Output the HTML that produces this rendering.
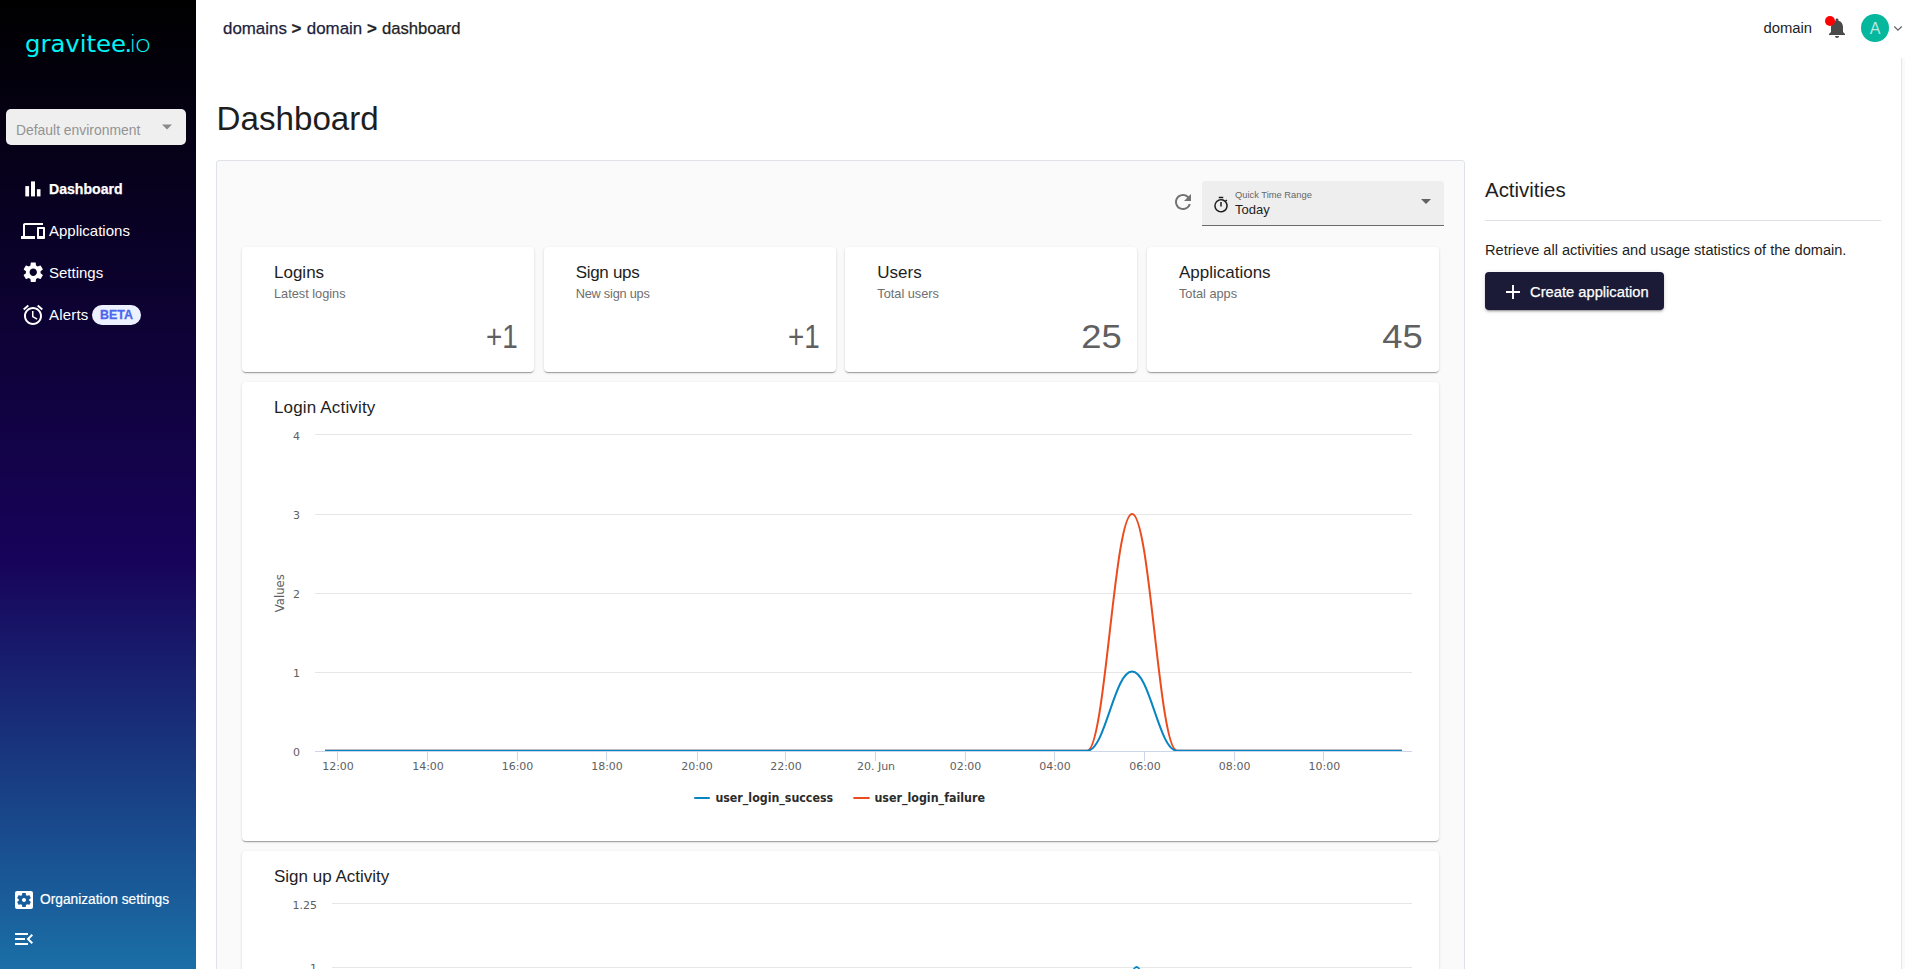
<!DOCTYPE html>
<html lang="en">
<head>
<meta charset="utf-8">
<title>Dashboard</title>
<style>
*{box-sizing:border-box;margin:0;padding:0}
html,body{width:1905px;height:969px;overflow:hidden;background:#fff}
body{font-family:"Liberation Sans",sans-serif;color:#1e1e1e;position:relative}
.abs{position:absolute;white-space:nowrap;line-height:1}
/* sidebar */
#side{position:absolute;left:0;top:0;width:196px;height:969px;
 background:linear-gradient(180deg,#000000 0%,#17035a 58%,#1a6fa7 100%)}
#env{position:absolute;left:6px;top:109px;width:180px;height:36px;background:#efefef;border-radius:5px}
.mi{position:absolute;left:49px;color:#fff;font-size:15px;white-space:nowrap;line-height:1}
#beta{position:absolute;left:92px;top:305px;width:49px;height:20px;border-radius:10px;background:#edf1ff;color:#4a67ee;-webkit-text-stroke:.300px #4a67ee;font-weight:bold;font-size:12.400px;line-height:20px;text-align:center}
/* main */
#panel{position:absolute;left:216px;top:160px;width:1249px;height:820px;background:#fafafa;border:1px solid #dfe2e6;border-radius:3px}
.card{position:absolute;background:#fff;border-radius:4px;box-shadow:0 2px 1px -1px rgba(0,0,0,.2),0 1px 1px 0 rgba(0,0,0,.14),0 1px 3px 0 rgba(0,0,0,.12)}
.ct{position:absolute;left:32px;top:17px;font-size:17px;line-height:1;white-space:nowrap;color:#1e1e1e}
.cs{position:absolute;left:32px;top:41px;font-size:12.750px;line-height:1;white-space:nowrap;color:#6e6e6e}
.cv{position:absolute;right:16px;top:72px;font-size:34px;line-height:1;white-space:nowrap;color:#606060}
#sel{position:absolute;left:1202px;top:181px;width:241.800px;height:45px;background:#eeeeee;border-radius:4px 4px 0 0;border-bottom:1px solid #6b6b6b}
#btn{position:absolute;left:1485px;top:272px;width:179px;height:38px;background:#1b1b38;border-radius:4px;box-shadow:0 3px 1px -2px rgba(0,0,0,.2),0 2px 2px 0 rgba(0,0,0,.14),0 1px 5px 0 rgba(0,0,0,.12)}
#sb{position:absolute;left:1901px;top:58px;width:4px;height:911px;background:#fafafa;border-left:1px solid #e6e6e6}
svg{position:absolute;overflow:visible}
svg text{font-family:"DejaVu Sans","Liberation Sans",sans-serif}
</style>
</head>
<body>
<!-- SIDEBAR -->
<div id="side">
  <svg id="logo" style="left:26px;top:30px" width="126" height="32" viewBox="0 0 126 32">
    <text y="22" font-size="23.800" fill="#00f4f4" style="font-family:'DejaVu Sans','Liberation Sans',sans-serif"><tspan x="-1.100" textLength="101.200" lengthAdjust="spacingAndGlyphs">gravitee</tspan><tspan x="98.600">.</tspan><tspan x="103.600" style="font-family:'DejaVu Sans Light','DejaVu Sans','Liberation Sans',sans-serif;font-weight:200">i</tspan><tspan x="108.600" textLength="16.900" lengthAdjust="spacingAndGlyphs" style="font-family:'DejaVu Sans Light','DejaVu Sans','Liberation Sans',sans-serif;font-weight:200">o</tspan></text>
  </svg>
  <div id="env">
    <div class="abs" style="left:10px;top:14.800px;font-size:13.900px;color:#939393">Default environment</div>
    <svg style="left:155px;top:15px" width="12" height="6" viewBox="0 0 12 6"><path d="M1 0.5h10L6 5.5z" fill="#8a8a8a"/></svg>
  </div>
  <!-- icons -->
  <svg style="left:0;top:0" width="60" height="200" viewBox="0 0 60 200" fill="#fff"><rect x="25.300" y="186.100" width="3.800" height="10.300"/><rect x="31" y="181.400" width="4" height="15"/><rect x="36.900" y="189.200" width="3.600" height="7.200"/></svg>
  <div class="mi" style="top:182px;font-weight:bold;font-size:14.100px;-webkit-text-stroke:.250px #fff">Dashboard</div>
  <svg style="left:21px;top:219.200px" width="24" height="24" viewBox="0 0 24 24" fill="#fff"><path d="M4 6h18V4H4c-1.100 0-2 .900-2 2v11H0v3h14v-3H4V6zm19 2h-6c-.550 0-1 .450-1 1v10c0 .550.450 1 1 1h6c.550 0 1-.450 1-1V9c0-.550-.450-1-1-1zm-1 9h-4v-7h4v7z"/></svg>
  <div class="mi" style="top:223.100px">Applications</div>
  <svg style="left:20.750px;top:260.200px" width="24.500" height="24.500" viewBox="0 0 24 24" fill="#fff"><path d="M19.140 12.940c.040-.300.060-.610.060-.940 0-.320-.020-.640-.070-.940l2.030-1.580a.490.490 0 0 0 .120-.610l-1.920-3.320a.488.488 0 0 0-.590-.220l-2.390.960c-.500-.380-1.030-.700-1.620-.940l-.360-2.540a.484.484 0 0 0-.480-.410h-3.840c-.240 0-.430.170-.470.410l-.360 2.540c-.590.240-1.130.570-1.620.940l-2.390-.960c-.220-.080-.470 0-.590.220L2.740 8.870c-.120.210-.080.470.120.610l2.030 1.580c-.050.300-.090.630-.090.940s.020.640.070.940l-2.030 1.580a.490.490 0 0 0-.120.610l1.920 3.320c.120.220.370.290.590.220l2.390-.960c.500.380 1.030.700 1.620.940l.360 2.540c.050.240.240.410.480.410h3.840c.240 0 .440-.170.470-.410l.360-2.540c.590-.240 1.130-.560 1.620-.940l2.390.960c.220.080.470 0 .590-.220l1.920-3.320c.120-.220.070-.470-.120-.610l-2.010-1.580zM12 15.600c-1.980 0-3.600-1.620-3.600-3.600s1.620-3.600 3.600-3.600 3.600 1.620 3.600 3.600-1.620 3.600-3.600 3.600z"/></svg>
  <div class="mi" style="top:265px">Settings</div>
  <svg style="left:21px;top:303.200px" width="24" height="24" viewBox="0 0 24 24" fill="#fff"><path d="M12.500 8H11v6l4.750 2.850.750-1.230-4-2.370V8zm4.837-6.190l4.607 3.845-1.280 1.535-4.610-3.843 1.283-1.537zm-10.674 0l1.282 1.536L3.337 7.190l-1.280-1.536L6.663 1.810zM12 4c-4.970 0-9 4.030-9 9s4.030 9 9 9 9-4.030 9-9-4.030-9-9-9zm0 16c-3.860 0-7-3.140-7-7s3.140-7 7-7 7 3.140 7 7-3.140 7-7 7z"/></svg>
  <div class="mi" style="top:306.500px;letter-spacing:0.200px">Alerts</div>
  <div id="beta">BETA</div>
  <svg style="left:11.900px;top:887.800px" width="24" height="24" viewBox="0 0 24 24" fill="#fff"><path d="M12 10c-1.100 0-2 .900-2 2s.900 2 2 2 2-.900 2-2-.900-2-2-2zm7-7H5a2 2 0 0 0-2 2v14a2 2 0 0 0 2 2h14a2 2 0 0 0 2-2V5a2 2 0 0 0-2-2zm-1.750 9c0 .230-.020.460-.050.680l1.480 1.160c.130.110.170.300.080.450l-1.400 2.420c-.090.150-.270.210-.430.150l-1.740-.700c-.360.280-.760.510-1.180.690l-.260 1.850c-.030.170-.180.300-.350.300h-2.800c-.170 0-.320-.130-.350-.290l-.260-1.850c-.430-.180-.820-.410-1.180-.690l-1.740.700c-.160.060-.340 0-.430-.150l-1.400-2.420a.353.353 0 0 1 .080-.450l1.480-1.160c-.030-.230-.050-.460-.050-.690 0-.230.020-.460.050-.680l-1.480-1.160a.353.353 0 0 1-.080-.450l1.400-2.420c.090-.150.270-.210.430-.150l1.740.700c.360-.280.760-.510 1.180-.690l.260-1.850c.030-.170.180-.300.350-.300h2.800c.170 0 .320.130.350.290l.260 1.850c.430.180.820.410 1.180.690l1.740-.700c.160-.060.340 0 .430.150l1.400 2.420c.090.150.050.340-.080.450l-1.480 1.160c.030.230.050.460.050.690z"/></svg>
  <div class="mi" style="left:40px;top:892.500px;font-size:13.740px;-webkit-text-stroke:.200px #fff">Organization settings</div>
  <svg style="left:11.900px;top:926.900px" width="24" height="24" viewBox="0 0 24 24" fill="#fff"><path d="M3 18h13v-2H3v2zm0-5h10v-2H3v2zm0-7v2h13V6H3zm18 9.590L17.420 12 21 8.410 19.590 7l-5 5 5 5L21 15.590z"/></svg>
</div>

<!-- TOP BAR -->
<div class="abs" id="bc" style="left:223px;top:21px;font-size:16.900px;-webkit-text-stroke:0.250px currentColor;color:#1c1e3e">domains <b style="color:#232323;-webkit-text-stroke:.250px #232323">&gt;</b><span style="margin-left:.700px"> domain</span> <b style="color:#232323;-webkit-text-stroke:.250px #232323">&gt;</b> <span style="color:#1e1e1e;font-size:16.660px;margin-left:.400px">dashboard</span></div>
<div class="abs" id="dom" style="left:1763.400px;top:21.100px;font-size:14.850px;color:#1e1e1e">domain</div>
<svg style="left:1824.700px;top:15.700px" width="24" height="24" viewBox="0 0 24 24" fill="#4a4a4a"><path d="M12 22c1.100 0 2-.900 2-2h-4a2 2 0 0 0 2 2zm6-6v-5c0-3.070-1.640-5.640-4.500-6.320V4c0-.830-.670-1.500-1.500-1.500s-1.500.670-1.500 1.500v.680C7.630 5.360 6 7.920 6 11v5l-2 2v1h16v-1l-2-2z"/></svg>
<div style="position:absolute;left:1825px;top:16px;width:10px;height:10px;border-radius:5px;background:#ff0000"></div>
<div style="position:absolute;left:1861.200px;top:14px;width:27.700px;height:27.700px;border-radius:14px;background:#04b79d;color:rgba(255,255,255,.72);font-size:16px;line-height:29.500px;text-align:center">A</div>
<svg style="left:1894px;top:25.600px" width="8" height="5" viewBox="0 0 8 5" fill="none" stroke="#626262" stroke-width="1.200"><path d="M0.300 0.500L4 4.200L7.700 0.500"/></svg>
<div id="sb"></div>

<!-- HEADING -->
<div class="abs" id="h1" style="left:216.600px;top:101.500px;font-size:33.150px;color:#1e1e1e">Dashboard</div>

<!-- PANEL -->
<div id="panel"></div>
<svg style="left:1170.800px;top:189.800px" width="24" height="24" viewBox="0 0 24 24" fill="#737373"><path d="M17.650 6.350A7.958 7.958 0 0 0 12 4c-4.420 0-7.990 3.580-7.990 8s3.570 8 7.990 8c3.730 0 6.840-2.550 7.730-6h-2.080A5.990 5.990 0 0 1 12 18c-3.310 0-6-2.690-6-6s2.690-6 6-6c1.660 0 3.140.690 4.220 1.780L13 11h7V4l-2.350 2.350z"/></svg>
<div id="sel">
  <svg style="left:9.500px;top:14.950px" width="18" height="18" viewBox="0 0 24 24" fill="#1e1e1e"><path d="M15 1H9v2h6V1zm-4 13h2V8h-2v6zm8.030-6.610l1.420-1.420c-.430-.510-.900-.990-1.410-1.410l-1.420 1.420A8.962 8.962 0 0 0 12 4a9 9 0 0 0-9 9c0 4.970 4.020 9 9 9a8.994 8.994 0 0 0 7.030-14.610zM12 20c-3.870 0-7-3.130-7-7s3.130-7 7-7 7 3.130 7 7-3.130 7-7 7z"/></svg>
  <div class="abs" style="left:33px;top:10px;font-size:9.350px;color:#666">Quick Time Range</div>
  <div class="abs" style="left:33px;top:22px;font-size:13px;color:#1e1e1e">Today</div>
  <svg style="left:219px;top:17.800px" width="10" height="5" viewBox="0 0 10 5"><path d="M0 0h10L5 5z" fill="#616161"/></svg>
</div>

<div class="card" style="left:242px;top:247px;width:292.050px;height:125px"><div class="ct">Logins</div><div class="cs">Latest logins</div><div class="cv" style="transform:scaleX(.82);transform-origin:100% 50%">+1</div></div>
<div class="card" style="left:543.650px;top:247px;width:292.050px;height:125px"><div class="ct" style="letter-spacing:-.300px">Sign ups</div><div class="cs" style="letter-spacing:-.210px">New sign ups</div><div class="cv" style="transform:scaleX(.82);transform-origin:100% 50%">+1</div></div>
<div class="card" style="left:845.300px;top:247px;width:292.050px;height:125px"><div class="ct">Users</div><div class="cs">Total users</div><div class="cv" style="transform:scaleX(1.07);transform-origin:100% 50%">25</div></div>
<div class="card" style="left:1146.950px;top:247px;width:292.050px;height:125px"><div class="ct">Applications</div><div class="cs">Total apps</div><div class="cv" style="transform:scaleX(1.07);transform-origin:100% 50%">45</div></div>

<!-- LOGIN ACTIVITY -->
<div class="card" style="left:242px;top:381.800px;width:1197px;height:459.100px"><div class="ct" style="top:17.200px;letter-spacing:.160px">Login Activity</div></div>
<svg id="ch1" style="left:242px;top:382px" width="1197" height="458" viewBox="242 382 1197 458">
  <g stroke="#e6e6e6" stroke-width="1" shape-rendering="crispEdges">
    <path d="M315 434.500H1412M315 514.500H1412M315 593.500H1412M315 672.500H1412"/>
  </g>
  <path d="M315 751.500H1412" stroke="#ccd6eb" stroke-width="1" shape-rendering="crispEdges"/>
  <g stroke="#ccd6eb" stroke-width="1" shape-rendering="crispEdges">
    <path d="M337.500 751v10M427.500 751v10M517.500 751v10M606.500 751v10M697.500 751v10M785.500 751v10M875.500 751v10M965.500 751v10M1054.500 751v10M1144.500 751v10M1234.500 751v10M1323.500 751v10"/>
  </g>
  <g font-size="11" fill="#606060" text-anchor="end">
    <text x="300" y="440">4</text><text x="300" y="519">3</text><text x="300" y="598">2</text><text x="300" y="677">1</text><text x="300" y="756">0</text>
  </g>
  <text font-size="11.700" fill="#5e5e5e" text-anchor="middle" transform="translate(283.500 593.200) rotate(-90)">Values</text>
  <g font-size="11" fill="#606060" text-anchor="middle">
    <text x="338" y="770">12:00</text><text x="428" y="770">14:00</text><text x="517.500" y="770">16:00</text><text x="607" y="770">18:00</text><text x="697" y="770">20:00</text><text x="786" y="770">22:00</text><text x="876" y="770">20. Jun</text><text x="965.500" y="770">02:00</text><text x="1055" y="770">04:00</text><text x="1145" y="770">06:00</text><text x="1234.700" y="770">08:00</text><text x="1324.400" y="770">10:00</text>
  </g>
  <clipPath id="cp"><rect x="315" y="420" width="1097" height="331"/></clipPath><path clip-path="url(#cp)" id="pf" d="M325 750.700 H1087.300 C1105.220 750.700 1114.180 513.9 1132.100 513.9 C1150.020 513.9 1158.980 750.700 1176.900 750.700 H1402" fill="none" stroke="#ea4c1d" stroke-width="2" stroke-linejoin="round"/>
  <path clip-path="url(#cp)" id="ps" d="M325 750.700 H1087.300 C1105.220 750.700 1114.180 671.6 1132.100 671.6 C1150.020 671.6 1158.980 750.700 1176.900 750.700 H1402" fill="none" stroke="#0785c2" stroke-width="2" stroke-linejoin="round"/>
  <path d="M695 798h14" stroke="#0785c2" stroke-width="2" stroke-linecap="round"/>
  <path d="M854.100 798h14.800" stroke="#ea4c1d" stroke-width="2" stroke-linecap="round"/>
  <g font-size="12" font-weight="bold" fill="#2b2b2b">
    <text x="715.400" y="802" textLength="117.700" lengthAdjust="spacingAndGlyphs">user_login_success</text><text x="874.400" y="802" textLength="110.600" lengthAdjust="spacingAndGlyphs">user_login_failure</text>
  </g>
</svg>

<!-- SIGN UP ACTIVITY -->
<div class="card" style="left:242px;top:850.700px;width:1197px;height:140px"><div class="ct" style="top:17.300px">Sign up Activity</div></div>
<svg id="ch2" style="left:242px;top:852px" width="1197" height="117" viewBox="242 852 1197 117">
  <path d="M332 903.500H1412M332 967.500H1412" stroke="#e6e6e6" stroke-width="1" shape-rendering="crispEdges"/>
  <g font-size="11" fill="#606060" text-anchor="end"><text x="317" y="909">1.25</text><text x="317" y="972">1</text></g>
  <path d="M1091.800 1223C1109.720 1223 1118.680 966.900 1136.600 966.900C1154.520 966.900 1163.480 1223 1181.400 1223" fill="none" stroke="#0785c2" stroke-width="2"/>
</svg>

<!-- RIGHT -->
<div class="abs" id="act" style="left:1485px;top:179.700px;font-size:20.450px;color:#1e1e1e">Activities</div>
<div style="position:absolute;left:1485px;top:220px;width:396px;height:1px;background:#dde1e5"></div>
<div class="abs" id="ret" style="left:1485px;top:242.600px;font-size:14.580px;color:#1e1e1e">Retrieve all activities and usage statistics of the domain.</div>
<div id="btn">
  <svg style="left:21px;top:13px" width="14" height="14" viewBox="0 0 14 14" stroke="#fff" stroke-width="1.900"><path d="M7 0v14M0 7h14"/></svg>
  <div class="abs" style="left:45px;top:12.500px;font-size:14.720px;color:#fff;-webkit-text-stroke:.250px #fff">Create application</div>
</div>
</body>
</html>
